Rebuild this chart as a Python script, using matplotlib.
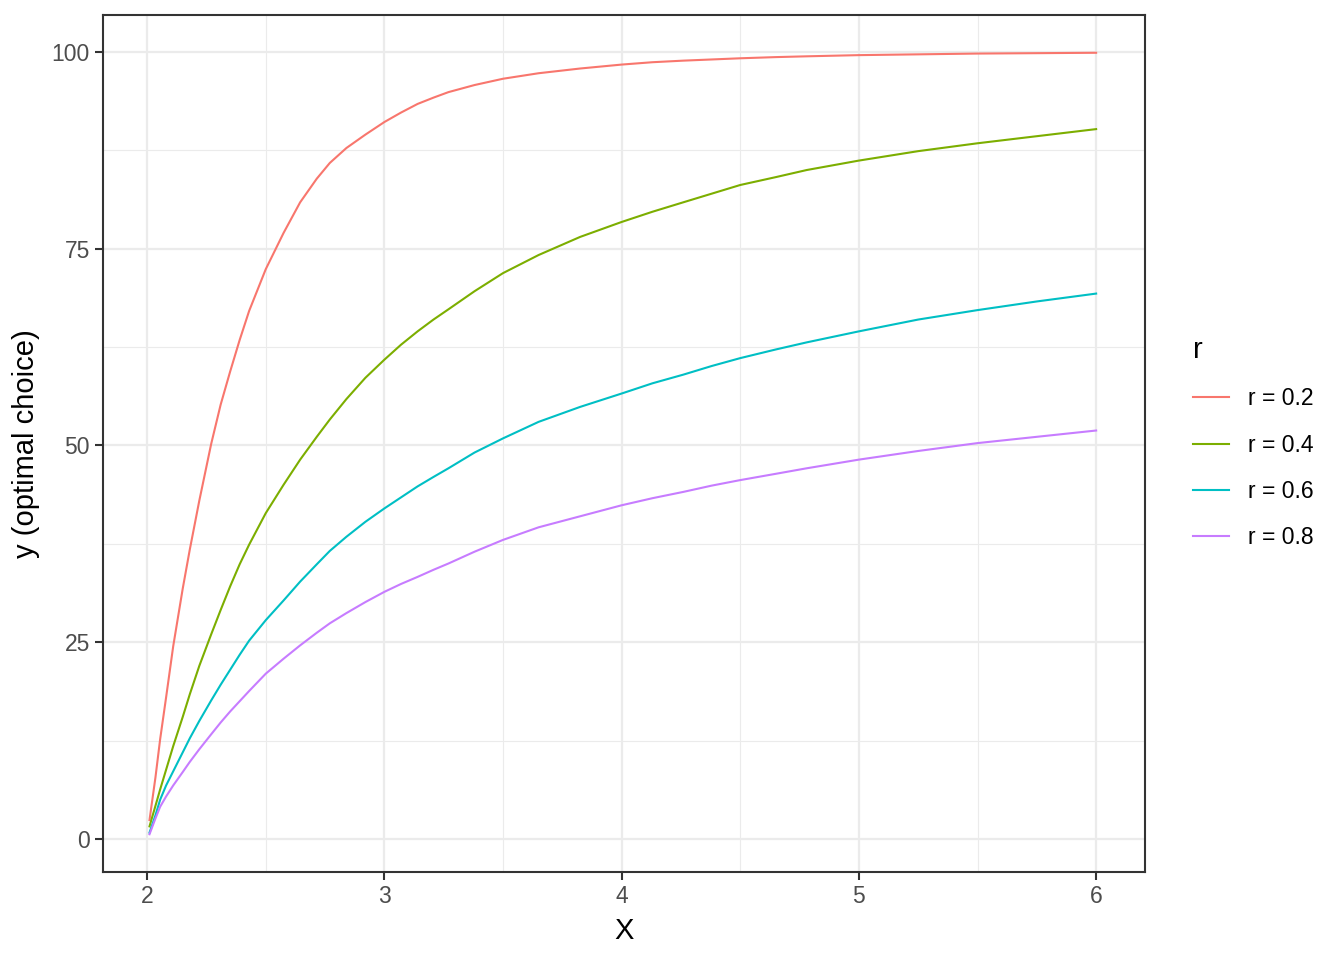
import matplotlib
matplotlib.use("Agg")
import matplotlib.pyplot as plt
from matplotlib.ticker import MultipleLocator

# values
x = [2.01, 2.035, 2.055, 2.08, 2.11, 2.15, 2.18, 2.22, 2.27, 2.31, 2.35, 2.39, 2.43,
     2.5, 2.575, 2.645, 2.715, 2.77, 2.84, 2.92, 3.0, 3.07, 3.14, 3.207, 3.27, 3.38,
     3.5, 3.65, 3.825, 4.0, 4.13, 4.26, 4.38, 4.5, 4.65, 4.78, 5.0, 5.25, 5.5, 5.75,
     6.0]
y_r02 = [2.4, 7.8, 12.7, 18.0, 24.5, 31.8, 36.8, 43.0, 50.2, 55.2, 59.4, 63.4, 67.1,
         72.4, 77.0, 80.9, 83.9, 85.9, 87.8, 89.5, 91.1, 92.3, 93.4, 94.2, 94.9, 95.8,
         96.6, 97.3, 97.9, 98.4, 98.7, 98.9, 99.05, 99.2, 99.35, 99.45, 99.6, 99.7,
         99.8, 99.85, 99.9]
y_r04 = [1.6, 4.2, 6.3, 8.8, 11.8, 15.5, 18.4, 22.0, 26.0, 29.1, 32.1, 34.9, 37.4,
         41.4, 45.0, 48.2, 51.1, 53.3, 55.9, 58.6, 60.9, 62.8, 64.5, 66.0, 67.3, 69.6,
         71.9, 74.2, 76.5, 78.4, 79.7, 80.9, 82.0, 83.1, 84.1, 85.0, 86.2, 87.4, 88.4,
         89.3, 90.2]
y_r06 = [0.8, 3.0, 5.0, 6.8, 8.6, 11.0, 12.8, 15.0, 17.6, 19.6, 21.5, 23.4, 25.2,
         27.8, 30.3, 32.7, 34.9, 36.6, 38.4, 40.3, 42.0, 43.4, 44.8, 46.0, 47.1, 49.1,
         50.9, 53.0, 54.9, 56.6, 57.9, 59.0, 60.1, 61.1, 62.2, 63.1, 64.5, 66.0, 67.2,
         68.3, 69.3]
y_r08 = [0.6, 2.6, 4.1, 5.4, 6.8, 8.5, 9.8, 11.4, 13.3, 14.8, 16.2, 17.5, 18.8,
         21.0, 22.9, 24.6, 26.2, 27.4, 28.7, 30.1, 31.4, 32.4, 33.3, 34.2, 35.0, 36.5,
         38.0, 39.6, 41.0, 42.4, 43.3, 44.1, 44.9, 45.6, 46.4, 47.1, 48.2, 49.3, 50.3,
         51.1, 51.9]
labels = ["r = 0.2", "r = 0.4", "r = 0.6", "r = 0.8"]
colors = ["#F8766D", "#7CAE00", "#00BFC4", "#C77CFF"]

plt.rcParams['font.family'] = ['Liberation Sans', 'DejaVu Sans']

fig = plt.figure(figsize=(13.44, 9.6), dpi=100)
ax = fig.add_axes([103/1344, 1 - 872/960, (1145-103)/1344, (872-15)/960])

for ys, lab, c in zip([y_r02, y_r04, y_r06, y_r08], labels, colors):
    ax.plot(x, ys, color=c, lw=1.5, label=lab)

ax.set_xlim(1.814, 6.206)
ax.set_ylim(-4.2, 104.7)
ax.xaxis.set_major_locator(MultipleLocator(1))
ax.xaxis.set_minor_locator(MultipleLocator(0.5))
ax.yaxis.set_major_locator(MultipleLocator(25))
ax.yaxis.set_minor_locator(MultipleLocator(12.5))
ax.grid(which='major', color='#EBEBEB', lw=1.6)
ax.grid(which='minor', color='#EBEBEB', lw=0.8)
ax.set_axisbelow(True)
for s in ax.spines.values():
    s.set_color('#333333')
    s.set_linewidth(1.5)
ax.tick_params(which='major', length=5.5, width=1.5, color='#333333',
               labelcolor='#4D4D4D', labelsize=16.5, pad=4)
ax.tick_params(which='minor', length=0)

ax.set_xlabel("X", fontsize=21, labelpad=6)
ax.set_ylabel("y (optimal choice)", fontsize=21, labelpad=8)

leg = ax.legend(loc='center left', bbox_to_anchor=(1172/1344, 0.539),
                bbox_transform=fig.transFigure, frameon=False, title='r',
                fontsize=16.5, title_fontsize=21, handlelength=1.6,
                handletextpad=0.8, labelspacing=1.01, alignment='left')

fig.savefig("out.png", dpi=100)
